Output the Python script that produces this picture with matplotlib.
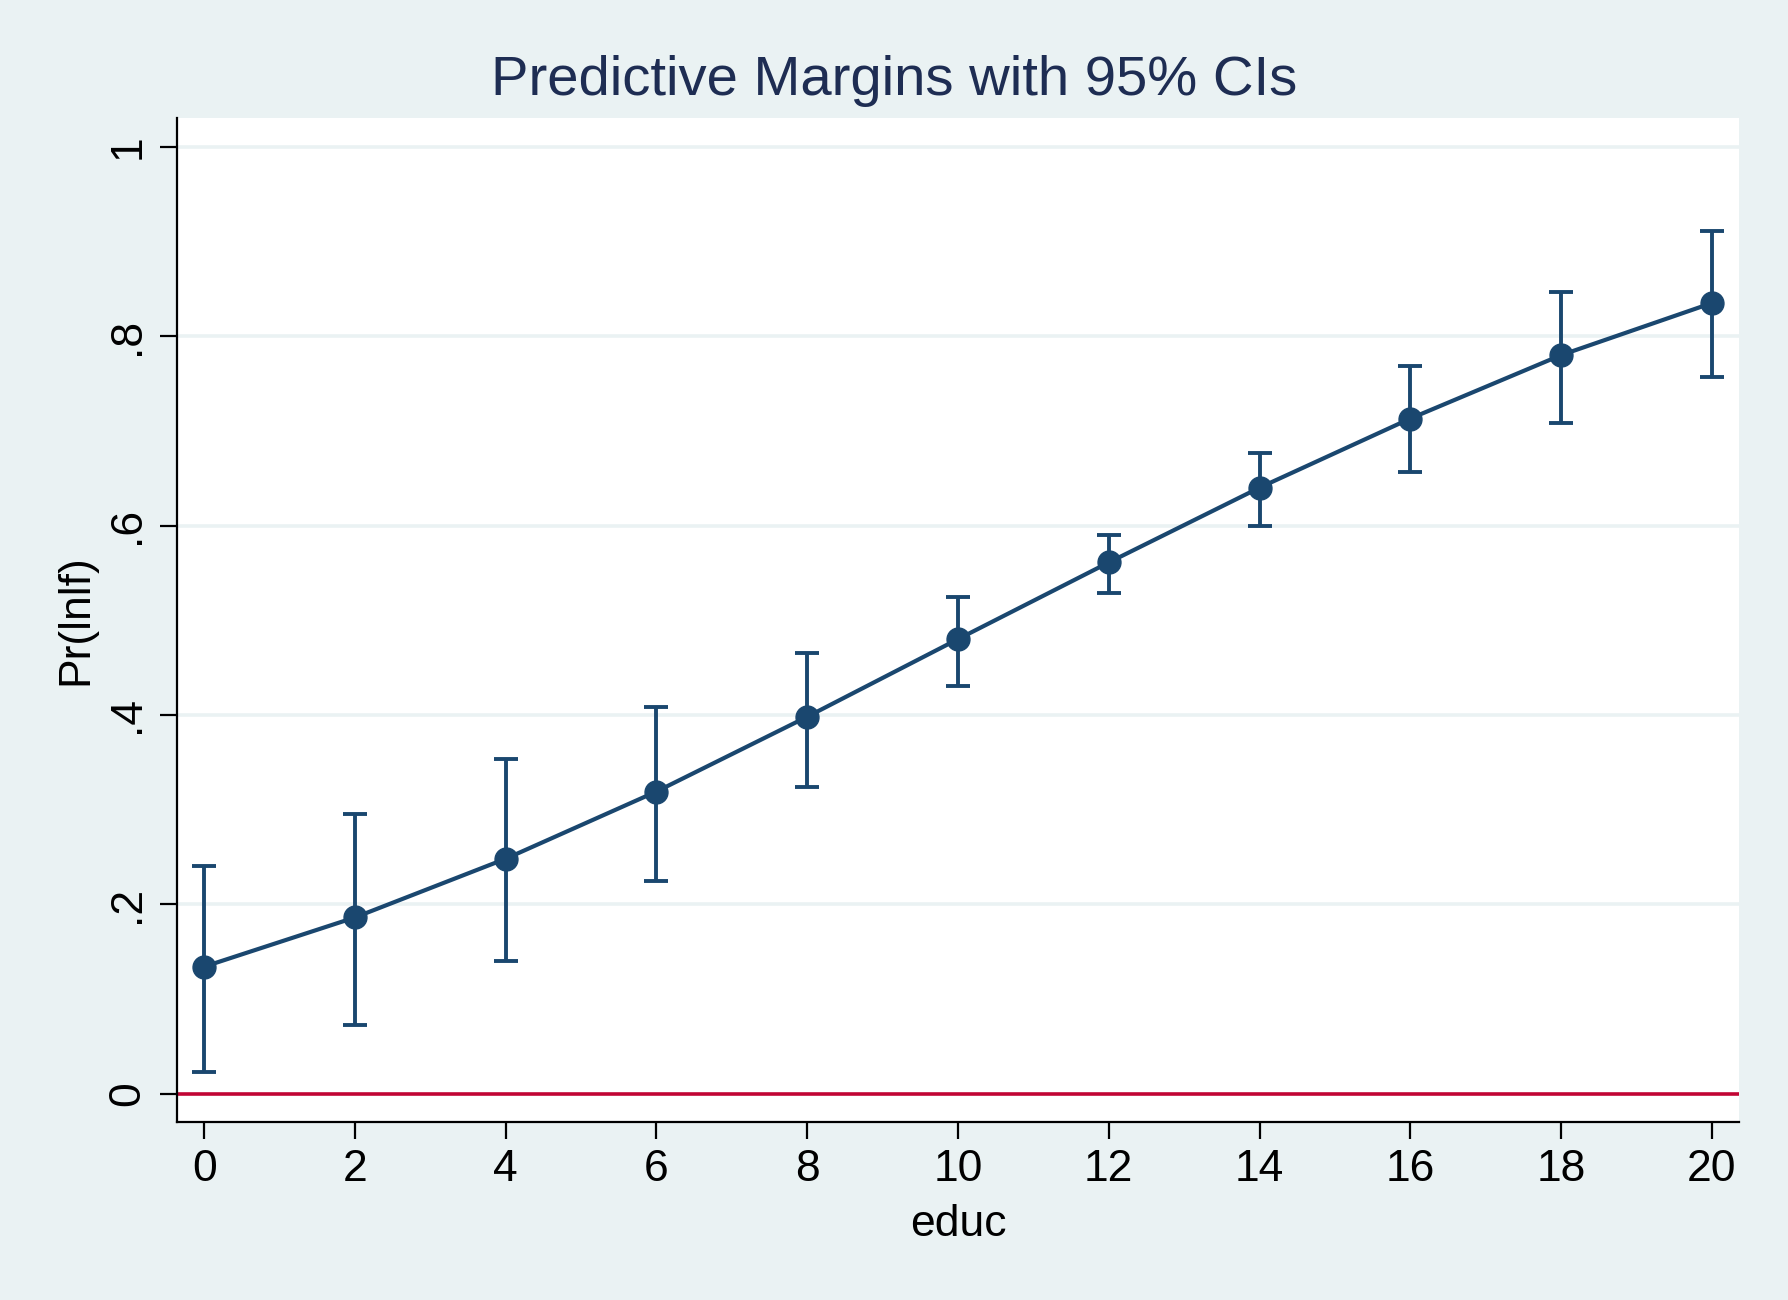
import matplotlib
matplotlib.use("Agg")
import matplotlib.pyplot as plt

educ = [0, 2, 4, 6, 8, 10, 12, 14, 16, 18, 20]
margin = [0.134, 0.186, 0.248, 0.319, 0.398, 0.480, 0.561, 0.640, 0.713, 0.780, 0.835]
ci_low = [0.023, 0.072, 0.140, 0.225, 0.324, 0.431, 0.529, 0.600, 0.657, 0.708, 0.757]
ci_high = [0.240, 0.295, 0.353, 0.408, 0.465, 0.524, 0.590, 0.677, 0.769, 0.847, 0.911]
yticks = [0, 0.2, 0.4, 0.6, 0.8, 1]
ylabels = ["0", ".2", ".4", ".6", ".8", "1"]

navy = "#1A476F"
bg = "#EAF2F3"
plt.rcParams["font.family"] = ["Liberation Sans", "DejaVu Sans"]

fig = plt.figure(figsize=(17.88, 13.0), dpi=100, facecolor=bg)
ax = fig.add_axes([0.0989, 0.137, 0.8737, 0.7726])
ax.set_facecolor("white")

for v in yticks[1:]:
    ax.axhline(v, color=bg, lw=2.6, zorder=0)
ax.axhline(0, color="#C10534", lw=2.6, zorder=1)

err = [[m - lo for m, lo in zip(margin, ci_low)],
       [hi - m for m, hi in zip(margin, ci_high)]]
ax.errorbar(educ, margin, yerr=err, fmt="none", ecolor=navy, elinewidth=2.8,
            capsize=8.5, capthick=2.8, zorder=2)
ax.plot(educ, margin, color=navy, lw=3.0, marker="o", markersize=16.5, zorder=3)

ax.set_xlim(-0.363, 20.36)
ax.set_ylim(-0.030, 1.031)
ax.set_xticks(educ)
ax.set_yticks(yticks)
ax.set_yticklabels(ylabels, rotation=90, va="center")
ax.tick_params(axis="both", length=12.5, width=1.6, labelsize=32, color="black")
ax.tick_params(axis="y", pad=8)
ax.tick_params(axis="x", pad=7)

for s in ["top", "right"]:
    ax.spines[s].set_visible(False)
for s in ["left", "bottom"]:
    ax.spines[s].set_linewidth(1.6)

ax.set_xlabel("educ", fontsize=32, labelpad=10)
ax.set_ylabel("Pr(lnlf)", fontsize=32, labelpad=8)
fig.text(0.5, 0.938, "Predictive Margins with 95% CIs", fontsize=40.5,
         color="#1E2D53", ha="center", va="center")

fig.savefig("out.png", dpi=100, facecolor=bg)
